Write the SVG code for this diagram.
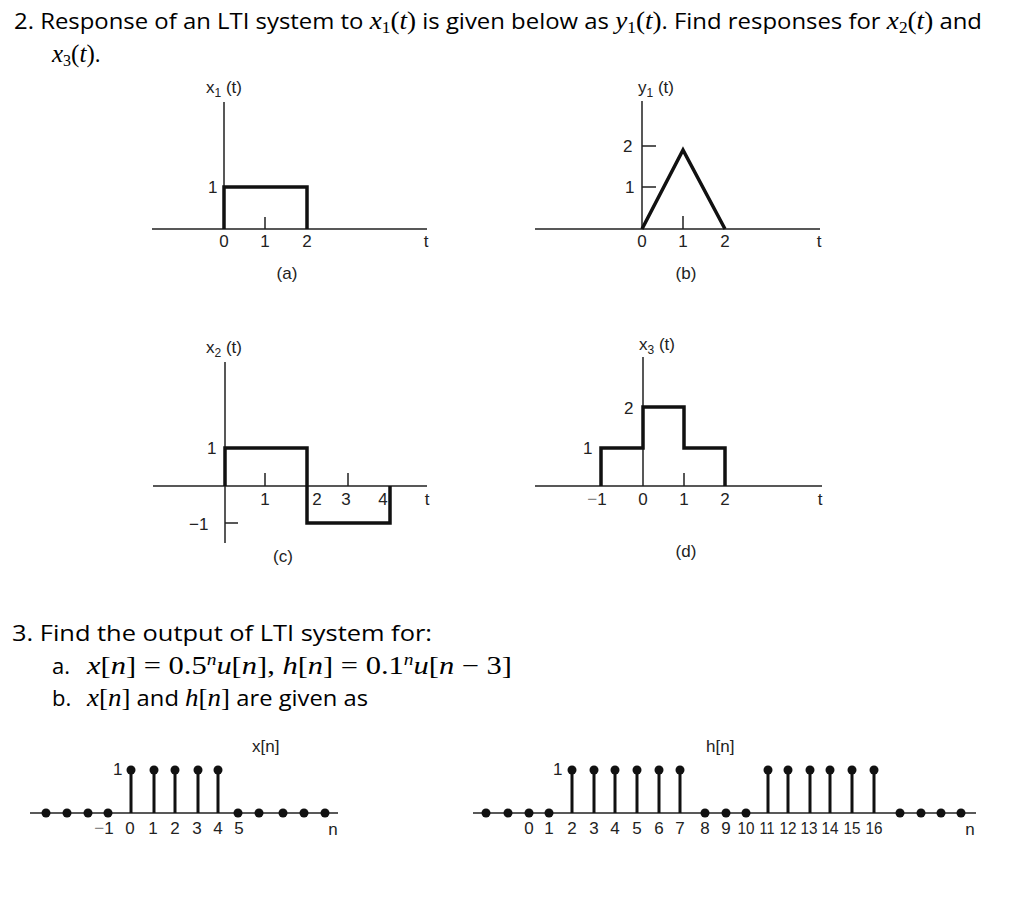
<svg xmlns="http://www.w3.org/2000/svg" width="1024" height="904" viewBox="0 0 1024 904">
<style>
.ax{stroke:#222;stroke-width:1.5;fill:none}
.sig{stroke:#111;stroke-width:3.5;fill:none;stroke-linejoin:miter}
.lb{font-family:"Liberation Sans",Arial,sans-serif;font-size:17px;fill:#222}
.cap{font-family:"Liberation Sans",Arial,sans-serif;font-size:17px;fill:#222;text-anchor:middle}
.q{font-family:"Open Sans","Liberation Sans",sans-serif;font-size:22px;fill:#000}
.m{font-family:"Liberation Serif",serif;font-style:italic;font-size:25px}
.mr{font-family:"Liberation Serif",serif;font-size:25px}
.sb{font-family:"Liberation Serif",serif;font-size:16px}
.sp{font-family:"Liberation Serif",serif;font-style:italic;font-size:16px}
.ls{font-size:12px}
.stem{stroke:#111;stroke-width:3}
.dot{fill:#111}
</style>
<rect width="1024" height="904" fill="#fff"/>
<g id="text">
<text class="q" x="14" y="29" textLength="968" lengthAdjust="spacingAndGlyphs">2.  Response of an LTI system to <tspan class="m">x</tspan><tspan class="sb" dy="4">1</tspan><tspan class="mr" dy="-4">(</tspan><tspan class="m">t</tspan><tspan class="mr">)</tspan> is given below as <tspan class="m">y</tspan><tspan class="sb" dy="4">1</tspan><tspan class="mr" dy="-4">(</tspan><tspan class="m">t</tspan><tspan class="mr">)</tspan>. Find responses for <tspan class="m">x</tspan><tspan class="sb" dy="4">2</tspan><tspan class="mr" dy="-4">(</tspan><tspan class="m">t</tspan><tspan class="mr">)</tspan> and</text>
<text class="q" x="52" y="62"><tspan class="m">x</tspan><tspan class="sb" dy="4">3</tspan><tspan class="mr" dy="-4">(</tspan><tspan class="m">t</tspan><tspan class="mr">)</tspan>.</text>
<text class="q" x="12" y="641" font-size="23" textLength="420" lengthAdjust="spacingAndGlyphs">3.  Find the output of LTI system for:</text>
<text class="q" x="52" y="674" font-size="23">a.</text>
<text class="q" x="87" y="674" textLength="425" lengthAdjust="spacingAndGlyphs"><tspan class="m">x</tspan><tspan class="mr">[</tspan><tspan class="m">n</tspan><tspan class="mr">] = 0.5</tspan><tspan class="sp" dy="-9">n</tspan><tspan class="m" dy="9">u</tspan><tspan class="mr">[</tspan><tspan class="m">n</tspan><tspan class="mr">], </tspan><tspan class="m">h</tspan><tspan class="mr">[</tspan><tspan class="m">n</tspan><tspan class="mr">] = 0.1</tspan><tspan class="sp" dy="-9">n</tspan><tspan class="m" dy="9">u</tspan><tspan class="mr">[</tspan><tspan class="m">n</tspan><tspan class="mr"> − 3]</tspan></text>
<text class="q" x="52" y="706" font-size="23">b.</text>
<text class="q" x="87" y="706" font-size="23" textLength="281" lengthAdjust="spacingAndGlyphs"><tspan class="m">x</tspan><tspan class="mr">[</tspan><tspan class="m">n</tspan><tspan class="mr">]</tspan> and <tspan class="m">h</tspan><tspan class="mr">[</tspan><tspan class="m">n</tspan><tspan class="mr">]</tspan> are given as</text>
</g>
<g id="plot-a">
<path class="ax" d="M152 229H427M224 102V229M265 217V229"/>
<path class="sig" d="M224 229V187H307V229"/>
<text class="lb" x="206" y="93">x<tspan class="ls" dy="4">1</tspan><tspan dy="-4"> (t)</tspan></text>
<text class="lb" x="208" y="193">1</text>
<text class="cap" x="224" y="247">0</text><text class="cap" x="265" y="247">1</text><text class="cap" x="307" y="247">2</text><text class="cap" x="426" y="247">t</text>
<text class="cap" x="287" y="279">(a)</text>
</g>
<g id="plot-b">
<path class="ax" d="M535 229H820M642 101V229M642 146H656M642 187H656M683 216V229"/>
<path class="sig" d="M642 229L683 150L725 229"/>
<text class="lb" x="638" y="93">y<tspan class="ls" dy="4">1</tspan><tspan dy="-4"> (t)</tspan></text>
<text class="lb" x="623" y="152">2</text><text class="lb" x="625" y="193">1</text>
<text class="cap" x="642" y="247">0</text><text class="cap" x="683" y="247">1</text><text class="cap" x="725" y="247">2</text><text class="cap" x="819" y="247">t</text>
<text class="cap" x="686" y="279">(b)</text>
</g>
<g id="plot-c">
<path class="ax" d="M153 486H427M225 362V543M265 473V486M348 473V486M225 523H238"/>
<path class="sig" d="M225 486V448H307V523H390V486"/>
<text class="lb" x="206" y="353">x<tspan class="ls" dy="4">2</tspan><tspan dy="-4"> (t)</tspan></text>
<text class="lb" x="207" y="454">1</text><text class="lb" x="189" y="530">−1</text>
<text class="cap" x="265" y="505">1</text><text class="cap" x="317" y="505">2</text><text class="cap" x="346" y="505">3</text><text class="cap" x="383" y="505">4</text><text class="cap" x="427" y="505">t</text>
<text class="cap" x="283" y="562">(c)</text>
</g>
<g id="plot-d">
<path class="ax" d="M535 486H822M643 357V486M684 473V486"/>
<path class="sig" d="M601 486V448H643V407H684V448H725V486"/>
<text class="lb" x="639" y="350">x<tspan class="ls" dy="4">3</tspan><tspan dy="-4"> (t)</tspan></text>
<text class="lb" x="583" y="454">1</text><text class="lb" x="624" y="414">2</text>
<text class="cap" x="597" y="505"><tspan fill="#888">−</tspan>1</text><text class="cap" x="643" y="505">0</text><text class="cap" x="684" y="505">1</text><text class="cap" x="725" y="505">2</text><text class="cap" x="820" y="505">t</text>
<text class="cap" x="686" y="557">(d)</text>
</g>
<g id="plot-x">
<path class="ax" d="M30 813H338"/>
<g class="stem"><path d="M131 813V770M154 813V770M175 813V770M198 813V770M218 813V770"/></g>
<g class="dot">
<circle cx="131" cy="770" r="4.5"/><circle cx="154" cy="770" r="4.5"/><circle cx="175" cy="770" r="4.5"/><circle cx="198" cy="770" r="4.5"/><circle cx="218" cy="770" r="4.5"/>
<circle cx="46" cy="813" r="4.5"/><circle cx="67" cy="813" r="4.5"/><circle cx="88" cy="813" r="4.5"/><circle cx="108" cy="813" r="4.5"/>
<circle cx="238" cy="813" r="4.5"/><circle cx="259" cy="813" r="4.5"/><circle cx="283" cy="813" r="4.5"/><circle cx="304" cy="813" r="4.5"/><circle cx="325" cy="813" r="4.5"/>
</g>
<text class="lb" x="252" y="752">x[n]</text>
<text class="lb" x="113" y="775">1</text>
<text class="cap" x="104" y="834"><tspan fill="#888">−</tspan>1</text><text class="cap" x="130" y="834">0</text><text class="cap" x="153" y="834">1</text><text class="cap" x="175" y="834">2</text><text class="cap" x="197" y="834">3</text><text class="cap" x="218" y="834">4</text><text class="cap" x="239" y="834">5</text><text class="cap" x="333" y="835">n</text>
</g>
<g id="plot-h">
<path class="ax" d="M473 813H976"/>
<g class="stem"><path d="M572 813V770M594 813V770M615 813V770M637 813V770M659 813V770M680 813V770M768 813V770M788 813V770M810 813V770M830 813V770M852 813V770M874 813V770"/></g>
<g class="dot">
<circle cx="572" cy="770" r="4.5"/><circle cx="594" cy="770" r="4.5"/><circle cx="615" cy="770" r="4.5"/><circle cx="637" cy="770" r="4.5"/><circle cx="659" cy="770" r="4.5"/><circle cx="680" cy="770" r="4.5"/>
<circle cx="768" cy="770" r="4.5"/><circle cx="788" cy="770" r="4.5"/><circle cx="810" cy="770" r="4.5"/><circle cx="830" cy="770" r="4.5"/><circle cx="852" cy="770" r="4.5"/><circle cx="874" cy="770" r="4.5"/>
<circle cx="486" cy="813" r="4.5"/><circle cx="508" cy="813" r="4.5"/><circle cx="529" cy="813" r="4.5"/><circle cx="549" cy="813" r="4.5"/>
<circle cx="705" cy="813" r="4.5"/><circle cx="726" cy="813" r="4.5"/><circle cx="746" cy="813" r="4.5"/>
<circle cx="900" cy="813" r="4.5"/><circle cx="921" cy="813" r="4.5"/><circle cx="941" cy="813" r="4.5"/><circle cx="961" cy="813" r="4.5"/>
</g>
<text class="lb" x="706" y="752">h[n]</text>
<text class="lb" x="553" y="775">1</text>
<text class="cap" x="529" y="834">0</text><text class="cap" x="549" y="834">1</text><text class="cap" x="572" y="834">2</text><text class="cap" x="594" y="834">3</text><text class="cap" x="615" y="834">4</text><text class="cap" x="637" y="834">5</text><text class="cap" x="659" y="834">6</text><text class="cap" x="680" y="834">7</text><text class="cap" x="705" y="834">8</text><text class="cap" x="726" y="834">9</text>
<text class="cap" x="746" y="834" textLength="17" lengthAdjust="spacingAndGlyphs">10</text><text class="cap" x="767" y="834" textLength="15" lengthAdjust="spacingAndGlyphs">11</text><text class="cap" x="788" y="834" textLength="17" lengthAdjust="spacingAndGlyphs">12</text><text class="cap" x="809" y="834" textLength="17" lengthAdjust="spacingAndGlyphs">13</text><text class="cap" x="830" y="834" textLength="17" lengthAdjust="spacingAndGlyphs">14</text><text class="cap" x="852" y="834" textLength="17" lengthAdjust="spacingAndGlyphs">15</text><text class="cap" x="874" y="834" textLength="17" lengthAdjust="spacingAndGlyphs">16</text>
<text class="cap" x="970" y="835">n</text>
</g>
</svg>
